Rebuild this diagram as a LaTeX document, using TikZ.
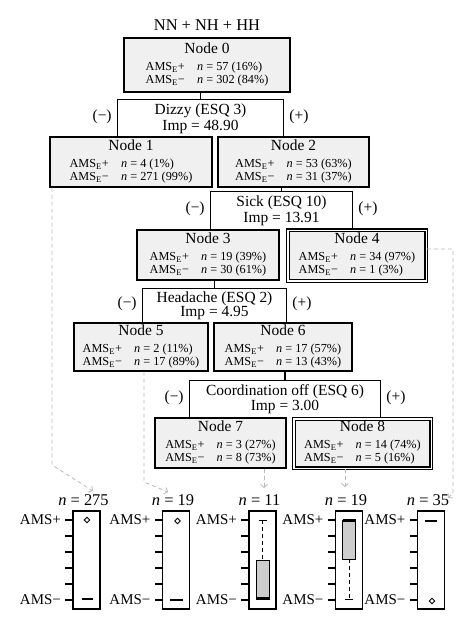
\documentclass[tikz,border=0pt]{standalone}
\usepackage{fontspec}
\setmainfont{Liberation Serif}
\usetikzlibrary{arrows.meta}
\usetikzlibrary{positioning}

\definecolor{leafgray}{RGB}{240,240,240}
\definecolor{linkgray}{RGB}{185,185,185}
\definecolor{boxgray}{RGB}{205,205,205}

\newcommand{\leaftext}[3]{%
\begin{tabular}{@{}c@{}}
{\fontsize{15.5}{16}\selectfont Node #1}\\[4bp]
\begin{tabular}[t]{@{}l@{\quad}l@{}}
AMS\textsubscript{E}+ & \textit{n} = #2\\
AMS\textsubscript{E}− & \textit{n} = #3
\end{tabular}
\end{tabular}}

\tikzset{
leaf/.style={draw, line width=1.3bp, fill=leafgray, minimum height=50bp, inner sep=0pt, font=\fontsize{12.3}{13}\selectfont},
termleaf/.style={leaf, double, double distance=1.5bp, line width=1.1bp},
splitbox/.style={inner sep=0pt, align=center, font=\fontsize{15.5}{16}\selectfont},
sign/.style={inner sep=0pt, font=\fontsize{15.5}{16}\selectfont},
link/.style={draw=linkgray, line width=0.8bp, dash pattern=on 4bp off 3bp, -{Straight Barb[length=3bp,width=7bp]}},
plotbox/.style={draw, line width=1.1bp, minimum width=27bp, minimum height=98bp, inner sep=0pt},
count/.style={inner sep=0pt, font=\fontsize{16.5}{17}\selectfont},
amslabel/.style={inner sep=0pt, anchor=east, font=\fontsize{15}{15}\selectfont},
outlier/.pic={\draw[line width=0.9bp] (0,-2.8) -- (2.8,0) -- (0,2.8) -- (-2.8,0) -- cycle;}
}

\begin{document}
\begin{tikzpicture}[x=1bp, y=-1bp]
\useasboundingbox (0,0) rectangle (474,627);

\node[font=\fontsize{16.5}{17}\selectfont] (title) at (207,25) {NN + NH + HH};

\node[leaf, minimum width=166bp, minimum height=54bp] (node0) at (207,65) {\leaftext{0}{57 (16\%)}{302 (84\%)}};
\node[leaf, minimum width=162bp] (node1) at (131,162) {\leaftext{1}{4 (1\%)}{271 (99\%)}};
\node[leaf, minimum width=151bp] (node2) at (293.5,162) {\leaftext{2}{53 (63\%)}{31 (37\%)}};
\node[leaf, minimum width=142bp] (node3) at (208,255) {\leaftext{3}{19 (39\%)}{30 (61\%)}};
\node[termleaf, minimum width=138.5bp, minimum height=50.5bp] (node4) at (357,255.5) {\leaftext{4}{34 (97\%)}{1 (3\%)}};
\node[leaf, minimum width=134bp, minimum height=48bp] (node5) at (141,347) {\leaftext{5}{2 (11\%)}{17 (89\%)}};
\node[leaf, minimum width=138bp, minimum height=48bp] (node6) at (283,347) {\leaftext{6}{17 (57\%)}{13 (43\%)}};
\node[leaf, minimum width=131bp] (node7) at (220.5,443) {\leaftext{7}{3 (27\%)}{8 (73\%)}};
\node[termleaf, minimum width=137.5bp, minimum height=49.5bp] (node8) at (362.5,443.5) {\leaftext{8}{14 (74\%)}{5 (16\%)}};

\node[splitbox, minimum width=165bp, minimum height=37bp] (dizzy) at (200.5,118.5) {Dizzy (ESQ 3)\\Imp = 48.90};
\node[splitbox, minimum width=141bp, minimum height=38bp] (sick) at (281.5,211) {Sick (ESQ 10)\\Imp = 13.91};
\node[splitbox, minimum width=143bp, minimum height=34bp] (headache) at (214.5,306) {Headache (ESQ 2)\\[-2bp]Imp = 4.95};
\node[splitbox, minimum width=190bp, minimum height=37bp] (coord) at (285,399.5) {Coordination off (ESQ 6)\\[-1bp]Imp = 3.00};

\foreach \s in {dizzy,sick,headache,coord} {
\draw[line width=1.3bp] (\s.south west) |- (\s.north east) -- (\s.south east);
\node[sign, left=6bp of \s.west, yshift=2bp] (\s neg) {(−)};
\node[sign, right=6bp of \s.east, yshift=2bp] (\s pos) {(+)};
}

\draw[line width=1.3bp] (dizzy.north) -- (dizzy.north |- node0.south);
\draw[line width=1.3bp] (sick.north) -- (sick.north |- node2.south);
\draw[line width=1.3bp] (headache.north) -- (headache.north |- node3.south);
\draw[line width=1.3bp] (coord.north) -- (coord.north |- node6.south);

\foreach \b/\x/\n in {1/86.5/275, 2/176/19, 3/262.5/11, 4/349/19, 5/431/35} {
\node[plotbox] (plot\b) at (\x,560) {};
\node[count] (count\b) at (\x-3,500) {\textit{n} = \n};
\foreach \y in {520,536,552,568,584,600}
\draw[line width=1.1bp] (\x-13.5,\y) -- (\x-21.5,\y);
\node[amslabel] (plus\b) at (\x-25.5,520) {AMS+};
\node[amslabel] (minus\b) at (\x-25.5,600) {AMS−};
}

\pic at (87,520) {outlier};
\draw[line width=2.5bp] (81.5,599) -- (93,599);
\pic at (177.5,521) {outlier};
\draw[line width=2.5bp] (170,600) -- (183,600);
\draw[line width=1bp] (258.5,520) -- (266.5,520);
\draw[line width=1bp, dash pattern=on 4bp off 3bp] (262.5,520) -- (262.5,560);
\draw[line width=1bp, fill=boxgray] (256,560) rectangle (269,599);
\draw[line width=2.5bp] (256,598.5) -- (269,598.5);
\draw[line width=1bp, fill=boxgray] (342.5,520) rectangle (355.5,559);
\draw[line width=2.5bp] (342.5,520.5) -- (355.5,520.5);
\draw[line width=1bp, dash pattern=on 4bp off 3bp] (349,559) -- (349,599);
\draw[line width=1bp] (345,599) -- (353,599);
\draw[line width=2.5bp] (425,521) -- (437,521);
\pic at (432,601) {outlier};

\coordinate (bend1) at (52,465);
\coordinate (tip1) at (93,491);
\coordinate (bend2) at (144,482);
\coordinate (tip2) at (168,492);
\coordinate (tip3) at (264,488);
\coordinate (tip4) at (345,487);
\coordinate (bend5) at (453,249);
\coordinate (bend5b) at (453,493);
\coordinate (tip5) at (448,498);
\draw[link] (node1.south -| bend1) -- (bend1) -- (tip1);
\draw[link] (node5.south -| bend2) -- (bend2) -- (tip2);
\draw[link] (node7.south -| tip3) -- (tip3);
\draw[link] (node8.south -| tip4) -- (tip4);
\draw[link] (node4.east |- bend5) -- (bend5) -- (bend5b) -- (tip5);
\end{tikzpicture}
\end{document}
